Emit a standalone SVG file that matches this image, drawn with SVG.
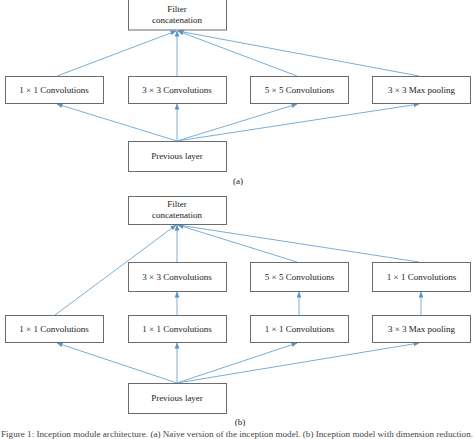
<svg xmlns="http://www.w3.org/2000/svg" width="474" height="439" viewBox="0 0 474 439">
<defs>
<marker id="ah" markerWidth="6" markerHeight="6" viewBox="0 0 6 6" refX="5.5" refY="3" orient="auto" markerUnits="userSpaceOnUse">
<path d="M0,0.6 L6,3 L0,5.4 Z" fill="#5b93c7"/>
</marker>
</defs>
<style>
.box{fill:#fff;stroke:#6b6b6b;stroke-width:1}
.t{font-family:"Liberation Serif",serif;font-size:9px;fill:#222;text-anchor:middle}
.c{stroke:#7aaedb;stroke-width:1;fill:none;marker-end:url(#ah)}
.cap{font-family:"Liberation Serif",serif;font-size:9px;fill:#444}
</style>
<rect width="474" height="439" fill="#fff"/>
<g id="connectors-a">
<line class="c" x1="57" y1="76" x2="176" y2="31"/>
<line class="c" x1="177" y1="76" x2="177" y2="31"/>
<line class="c" x1="297" y1="76" x2="178" y2="31"/>
<line class="c" x1="419" y1="76" x2="178" y2="31"/>
<line class="c" x1="177" y1="141" x2="57" y2="104"/>
<line class="c" x1="177" y1="141" x2="177" y2="104"/>
<line class="c" x1="177" y1="141" x2="297" y2="104"/>
<line class="c" x1="177" y1="141" x2="419" y2="104"/>
</g>
<g id="a-filter"><rect class="box" x="128.5" y="-1.5" width="98" height="31.5"/><text class="t" x="177" y="12">Filter</text><text class="t" x="177" y="23">concatenation</text></g>
<g id="a-conv1"><rect class="box" x="5.5" y="76.5" width="98" height="27"/><text class="t" x="54" y="93">1 × 1 Convolutions</text></g>
<g id="a-conv3"><rect class="box" x="128.5" y="76.5" width="98" height="27"/><text class="t" x="177" y="93">3 × 3 Convolutions</text></g>
<g id="a-conv5"><rect class="box" x="250.5" y="76.5" width="98" height="27"/><text class="t" x="299.5" y="93">5 × 5 Convolutions</text></g>
<g id="a-pool"><rect class="box" x="372.5" y="76.5" width="98" height="27"/><text class="t" x="421.5" y="93">3 × 3 Max pooling</text></g>
<g id="a-prev"><rect class="box" x="128.5" y="141.5" width="98" height="30"/><text class="t" x="177" y="159">Previous layer</text></g>
<text class="t" x="238" y="184">(a)</text>
<g id="connectors-b">
<line class="c" x1="55" y1="315" x2="176" y2="225"/>
<line class="c" x1="177" y1="262" x2="177" y2="225"/>
<line class="c" x1="297" y1="262" x2="178" y2="225"/>
<line class="c" x1="419" y1="262" x2="178" y2="225"/>
<line class="c" x1="177" y1="315" x2="177" y2="292"/>
<line class="c" x1="299" y1="315" x2="299" y2="292"/>
<line class="c" x1="421" y1="315" x2="421" y2="292"/>
<line class="c" x1="177" y1="383" x2="57" y2="343"/>
<line class="c" x1="177" y1="383" x2="177" y2="343"/>
<line class="c" x1="177" y1="383" x2="297" y2="343"/>
<line class="c" x1="177" y1="383" x2="419" y2="343"/>
</g>
<g id="b-filter"><rect class="box" x="128.5" y="196.5" width="98" height="28"/><text class="t" x="177" y="207">Filter</text><text class="t" x="177" y="218">concatenation</text></g>
<g id="b-conv3"><rect class="box" x="128.5" y="262.5" width="98" height="29"/><text class="t" x="177" y="280">3 × 3 Convolutions</text></g>
<g id="b-conv5"><rect class="box" x="250.5" y="262.5" width="98" height="29"/><text class="t" x="299.5" y="280">5 × 5 Convolutions</text></g>
<g id="b-conv1c"><rect class="box" x="372.5" y="262.5" width="98" height="29"/><text class="t" x="421.5" y="280">1 × 1 Convolutions</text></g>
<g id="b-conv1a"><rect class="box" x="5.5" y="315.5" width="98" height="27"/><text class="t" x="54" y="332">1 × 1 Convolutions</text></g>
<g id="b-conv1b"><rect class="box" x="128.5" y="315.5" width="98" height="27"/><text class="t" x="177" y="332">1 × 1 Convolutions</text></g>
<g id="b-conv1d"><rect class="box" x="250.5" y="315.5" width="98" height="27"/><text class="t" x="299.5" y="332">1 × 1 Convolutions</text></g>
<g id="b-pool"><rect class="box" x="372.5" y="315.5" width="98" height="27"/><text class="t" x="421.5" y="332">3 × 3 Max pooling</text></g>
<g id="b-prev"><rect class="box" x="128.5" y="383.5" width="98" height="30"/><text class="t" x="177" y="401">Previous layer</text></g>
<text class="t" x="240" y="425">(b)</text>
<text class="cap" x="1" y="436.5" textLength="472" lengthAdjust="spacingAndGlyphs">Figure 1: Inception module architecture. (a) Naïve version of the inception model. (b) Inception model with dimension reduction.</text>
</svg>
